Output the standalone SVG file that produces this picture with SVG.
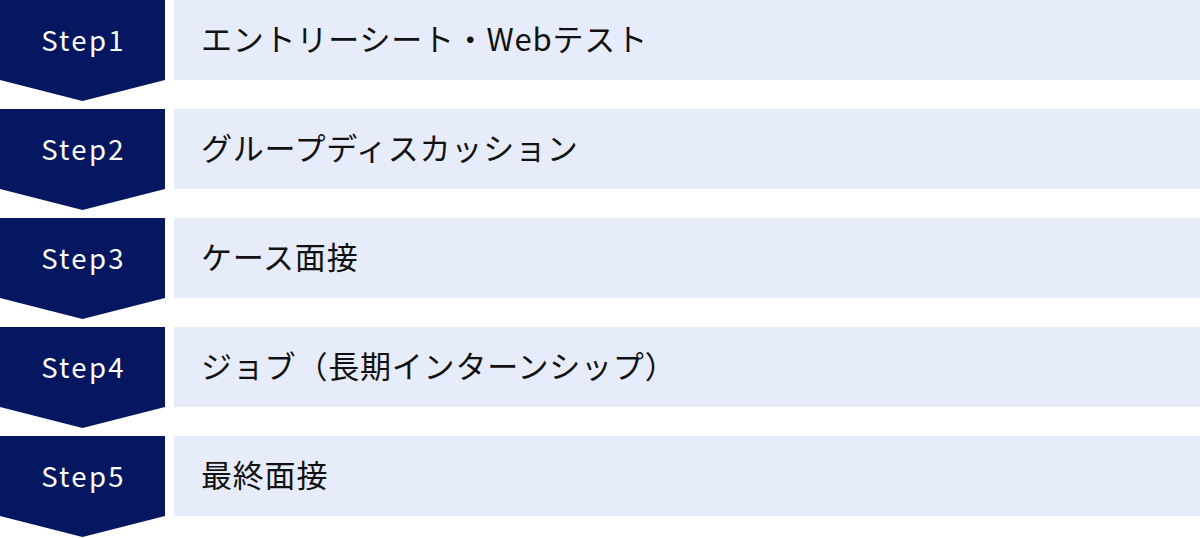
<svg xmlns="http://www.w3.org/2000/svg" width="1200" height="538" viewBox="0 0 1200 538">
<defs>
<style>
.chev{fill:#041760}
.box{fill:#E6ECF9}
.lbl{font-family:"Noto Sans CJK JP","Noto Sans",sans-serif;font-size:27.5px;fill:#ffffff;text-anchor:middle;letter-spacing:2.3px}
.txt{font-family:"Noto Sans CJK JP","Noto Sans",sans-serif;font-size:31px;fill:#111111;letter-spacing:0.8px}
</style>
<path id="chevron" d="M0 0H165V80L82.5 101L0 80Z"/>
</defs>
<rect width="1200" height="538" fill="#ffffff"/>
<g id="connectors"></g>
<g id="step1" transform="translate(0,0)">
<use href="#chevron" class="chev"/>
<rect class="box" x="174" y="0" width="1026" height="80"/>
<text class="lbl" x="83.5" y="51">Step1</text>
<text class="txt" x="201" y="51">エントリーシート・Webテスト</text>
</g>
<g id="step2" transform="translate(0,109)">
<use href="#chevron" class="chev"/>
<rect class="box" x="174" y="0" width="1026" height="80"/>
<text class="lbl" x="83.5" y="51">Step2</text>
<text class="txt" x="201" y="51">グループディスカッション</text>
</g>
<g id="step3" transform="translate(0,218)">
<use href="#chevron" class="chev"/>
<rect class="box" x="174" y="0" width="1026" height="80"/>
<text class="lbl" x="83.5" y="51">Step3</text>
<text class="txt" x="201" y="51">ケース面接</text>
</g>
<g id="step4" transform="translate(0,327)">
<use href="#chevron" class="chev"/>
<rect class="box" x="174" y="0" width="1026" height="80"/>
<text class="lbl" x="83.5" y="51">Step4</text>
<text class="txt" x="201" y="51">ジョブ（長期インターンシップ）</text>
</g>
<g id="step5" transform="translate(0,436)">
<use href="#chevron" class="chev"/>
<rect class="box" x="174" y="0" width="1026" height="80"/>
<text class="lbl" x="83.5" y="51">Step5</text>
<text class="txt" x="201" y="51">最終面接</text>
</g>
</svg>
